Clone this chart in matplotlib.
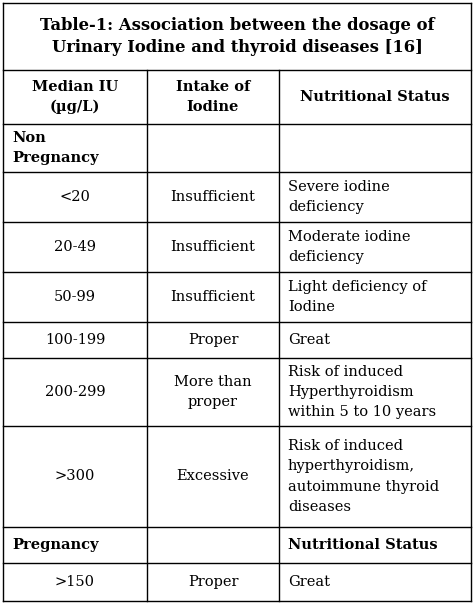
import matplotlib
matplotlib.use("Agg")
import matplotlib.pyplot as plt

title = "Table-1: Association between the dosage of\nUrinary Iodine and thyroid diseases [16]"
headers = ["Median IU\n(µg/L)", "Intake of\nIodine", "Nutritional Status"]
median_iu = ["<20", "20-49", "50-99", "100-199", "200-299", ">300"]
intake = ["Insufficient", "Insufficient", "Insufficient", "Proper", "More than\nproper", "Excessive"]
status = ["Severe iodine\ndeficiency", "Moderate iodine\ndeficiency", "Light deficiency of\nIodine", "Great",
          "Risk of induced\nHyperthyroidism\nwithin 5 to 10 years",
          "Risk of induced\nhyperthyroidism,\nautoimmune thyroid\ndiseases"]
preg_iu = [">150"]
preg_intake = ["Proper"]
preg_status = ["Great"]

W, H = 474, 605
fig = plt.figure(figsize=(W/100, H/100), dpi=100)
fig.patch.set_facecolor("white")
ax = fig.add_axes([0, 0, 1, 1])
ax.set_xlim(0, W); ax.set_ylim(H, 0); ax.axis("off")

FONT = "DejaVu Serif"
fs = 10.5
xl, x1, x2, xr = 3, 147, 279, 471
hl = [3, 70, 124, 172, 222, 272, 322, 358, 426, 527, 563, 601]
lw = 1.0
for y in hl:
    ax.plot([xl, xr], [y, y], color="black", lw=lw)
ax.plot([xl, xl], [hl[0], hl[-1]], color="black", lw=lw)
ax.plot([xr, xr], [hl[0], hl[-1]], color="black", lw=lw)
for x in (x1, x2):
    ax.plot([x, x], [hl[1], hl[-1]], color="black", lw=lw)

kw = dict(family=FONT, fontsize=fs, linespacing=1.55, va="center")
ax.text((xl+xr)/2, (hl[0]+hl[1])/2, title, ha="center", weight="bold", fontsize=11.8, family=FONT, linespacing=1.45, va="center")
cx = [(xl+x1)/2, (x1+x2)/2]
ym = (hl[2]+hl[1])/2
ax.text(cx[0], ym, headers[0], ha="center", weight="bold", **kw)
ax.text(cx[1], ym, headers[1], ha="center", weight="bold", **kw)
ax.text((x2+xr)/2, ym, headers[2], ha="center", weight="bold", **kw)
ax.text(12, (hl[2]+hl[3])/2, "Non\nPregnancy", ha="left", weight="bold", **kw)
for i in range(len(median_iu)):
    y = (hl[3+i]+hl[4+i])/2
    ax.text(cx[0], y, median_iu[i], ha="center", **kw)
    ax.text(cx[1], y, intake[i], ha="center", **kw)
    ax.text(x2+9, y, status[i], ha="left", **kw)
ax.text(12, (hl[9]+hl[10])/2, "Pregnancy", ha="left", weight="bold", **kw)
ax.text(x2+9, (hl[9]+hl[10])/2, "Nutritional Status", ha="left", weight="bold", **kw)
for i in range(len(preg_iu)):
    y = (hl[10+i]+hl[11+i])/2
    ax.text(cx[0], y, preg_iu[i], ha="center", **kw)
    ax.text(cx[1], y, preg_intake[i], ha="center", **kw)
    ax.text(x2+9, y, preg_status[i], ha="left", **kw)

fig.savefig("out.png", dpi=100)
